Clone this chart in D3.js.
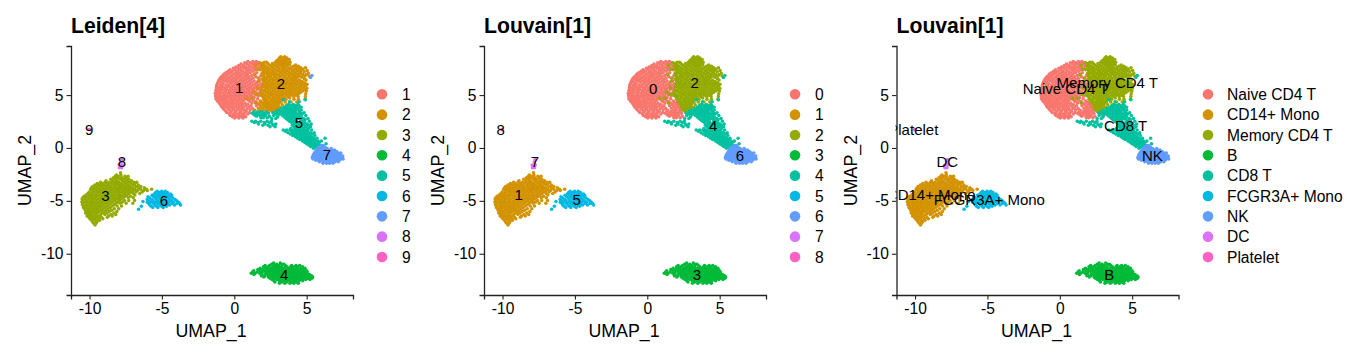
<!DOCTYPE html>
<html>
<head>
<meta charset="utf-8">
<script src="https://cdn.jsdelivr.net/npm/d3@7"></script>
<style>
    html, body { margin: 0; padding: 0; background: #fff; }
    text { font-family: "Liberation Sans", Arial, sans-serif; fill: #000; }
</style>
</head>
<body>
<div id="chart"></div>
<script>
// every row below is [UMAP_2, UMAP_1, UMAP_1, ...]
const cellsNaive = [
    [8.17, .93, 1.28, 1.52],
    [8.06, .72, 1.08, 1.41, 1.69],
    [7.93, .47, .86, 1.23, 1.58, 1.93],
    [7.8, .31, .64, 1.02, 1.37, 1.74],
    [7.66, .12, .49, .81, 1.17, 1.51],
    [7.53, -.06, .28, .67, .97, 1.33, 1.66],
    [7.39, -.29, .07, .44, .83, 1.12, 1.46, 1.78],
    [7.26, -.43, -.12, .23, .59, .94, 1.29],
    [7.12, -.58, -.27, .11, .41, .76, 1.09, 1.55],
    [6.99, -.71, -.39, -.04, .29, .63, .91, 1.38],
    [6.86, -.78, -.52, -.16, .17, .48, .84, 1.21, 1.84],
    [6.73, -.89, -.62, -.28, .06, .36, .71, 1.03, 1.49],
    [6.6, -.97, -.74, -.41, -.09, .24, .57, .93, 1.28, 1.67],
    [6.47, -1.03, -.83, -.53, -.19, .12, .46, .78, 1.14, 1.92],
    [6.34, -1.08, -.68, -.33, .02, .33, .64, 1.02, 1.37, 1.74],
    [6.21, -1.12, -.91, -.49, -.15, .18, .52, .87, 1.21, 1.58],
    [6.08, -1.16, -.77, -.26, .08, .41, .73, 1.09, 1.46, 1.86],
    [5.95, -1.21, -.96, -.58, -.37, -.04, .29, .61, .96, 1.31, 1.68],
    [5.82, -1.19, -.82, -.47, -.13, .19, .54, .82, 1.17, 1.51, 1.89],
    [5.69, -1.24, -1.01, -.66, -.29, .04, .38, .71, 1.04, 1.39, 1.77],
    [5.56, -1.18, -.87, -.53, -.17, .16, .49, .88, 1.22, 1.59],
    [5.43, -1.27, -1.04, -.71, -.36, -.02, .31, .64, .99, 1.33, 1.81],
    [5.3, -1.22, -.93, -.58, -.22, .11, .43, .77, 1.12, 1.48],
    [5.17, -1.31, -1.08, -.76, -.41, -.07, .26, .59, .93, 1.27, 1.68],
    [5.04, -1.26, -.98, -.63, -.27, .07, .38, .72, 1.07, 1.43],
    [4.91, -1.29, -1.11, -.81, -.47, -.13, .21, .52, .86, 1.19, 1.64],
    [4.78, -1.23, -.94, -.66, -.32, .03, .34, .68, 1.01, 1.37],
    [4.65, -1.27, -1.06, -.78, -.51, -.17, .14, .47, .79, 1.13, 1.61],
    [4.52, -1.18, -.89, -.61, -.29, -.02, .31, .62, .97, 1.31],
    [4.39, -1.13, -.97, -.72, -.43, -.11, .21, .53, 1.08, 1.47],
    [4.26, -1.03, -.79, -.54, -.24, .07, .41, .74, 1.22, 1.59],
    [4.13, -.96, -.66, -.37, -.08, .27, .59, .93],
    [4, -.91, -.72, -.49, -.19, .13, .44, .81, 1.16, 1.53],
    [3.87, -.86, -.58, -.31, -.01, .32, .63, 1.03],
    [3.74, -.76, -.44, -.13, .19, .51, .89, 1.27],
    [3.61, -.69, -.36, -.03, .33, .67, 1.09],
    [3.48, -.58, -.21, .12, .46, .82],
    [3.35, -.52, -.28, .06, .39, .71, 1.06],
    [3.22, -.34, -.07, .24, .56, .93],
    [3.08, -.27, .03, .37, .68],
    [2.95, -.12, .18, .51, .79],
    [2.84, .03, .32, .6]
];
const cellsMemory = [
    [8.62, 3.21, 3.48],
    [8.5, 3.12, 3.36, 3.63],
    [8.37, 3.04, 3.29, 3.52, 3.79],
    [8.24, 2.93, 3.17, 3.41, 3.68],
    [8.11, 2.07, 2.23, 2.83, 3.08, 3.33, 3.57, 3.86],
    [7.98, 1.94, 2.31, 2.64, 2.98, 3.24, 3.47, 3.74],
    [7.85, 2.06, 2.42, 2.77, 3.13, 3.39, 3.62, 3.83, 4.24],
    [7.72, 1.88, 2.18, 2.56, 2.91, 3.26, 3.54, 4.08, 4.43],
    [7.59, 2.01, 2.33, 2.69, 3.04, 3.38, 3.71, 3.94, 4.29, 4.58, 4.92],
    [7.46, 1.83, 2.14, 2.48, 2.82, 3.17, 3.51, 3.84, 4.17, 4.46, 4.74],
    [7.33, 1.98, 2.28, 2.63, 2.97, 3.31, 3.64, 4.01, 4.34, 4.62, 5.03],
    [7.2, 2.08, 2.41, 2.76, 3.11, 3.46, 3.78, 4.13, 4.48, 4.83],
    [7.07, 1.92, 2.22, 2.57, 2.89, 3.24, 3.58, 3.92, 4.26, 4.59, 5.11],
    [6.94, 2.03, 2.36, 2.71, 3.04, 3.37, 3.72, 4.06, 4.39, 4.73, 4.97],
    [6.81, 1.96, 2.27, 2.52, 2.86, 3.19, 3.53, 3.87, 4.21, 4.54, 4.88, 5.17],
    [6.68, 2.11, 2.43, 2.74, 3.08, 3.42, 3.76, 4.09, 4.37, 4.68],
    [6.55, 1.99, 2.26, 2.61, 2.94, 3.29, 3.61, 3.96, 4.28, 4.84],
    [6.42, 2.13, 2.46, 2.78, 3.14, 3.47, 3.83, 4.16, 4.51, 4.96],
    [6.29, 2.03, 2.32, 2.66, 2.99, 3.33, 3.68, 4.02, 4.36, 4.69],
    [6.16, 2.19, 2.53, 2.87, 3.22, 3.54, 3.89, 4.22, 4.57, 4.86],
    [6.03, 2.01, 2.36, 2.71, 3.06, 3.41, 3.73, 4.07, 4.41, 4.73, 5.02],
    [5.9, 2.22, 2.56, 2.92, 3.27, 3.59, 3.94, 4.27, 4.61, 4.93],
    [5.77, 1.93, 2.08, 2.42, 2.77, 3.11, 3.46, 3.79, 4.13, 4.48, 4.81],
    [5.64, 2.27, 2.62, 2.96, 3.31, 3.63, 3.98, 4.33, 4.67, 5.01],
    [5.51, 1.91, 2.12, 2.46, 2.81, 3.16, 3.48, 3.83, 4.18, 4.52, 4.86],
    [5.38, 2.03, 2.33, 2.67, 3.02, 3.34, 3.69, 4.03, 4.38, 4.72, 4.98],
    [5.25, 1.84, 2.19, 2.53, 2.87, 3.21, 3.56, 3.88, 4.24, 4.57],
    [5.12, 1.97, 2.37, 2.71, 3.06, 3.39, 3.74, 4.07, 4.43, 4.93],
    [4.99, 1.82, 2.14, 2.52, 2.89, 3.22, 3.58, 3.92, 4.27],
    [4.86, 1.96, 2.31, 2.68, 3.03, 3.37, 3.71, 4.11, 4.41, 4.91],
    [4.73, 2.09, 2.47, 2.83, 3.18, 3.49, 3.83],
    [4.6, 2.02, 2.28, 2.64, 2.98, 3.26, 3.58, 4.12, 4.43, 4.88],
    [4.47, 2.17, 2.51, 2.82, 3.13],
    [4.34, 2.33, 2.67, 2.96, 3.23, 3.52, 3.92, 4.31],
    [4.21, 2.21, 2.49, 2.81, 3.08],
    [4.08, 2.37, 2.64, 2.94, 3.31, 3.66],
    [3.95, 2.46, 2.76, 3.04],
    [3.82, 2.38, 2.61, 2.89, 3.19],
    [3.69, 2.53, 2.77, 3.02],
    [3.56, 2.47, 2.68, 2.93, 3.31],
    [3.43, 2.62, 2.83],
    [3.3, 2.74, 2.91],
    // strays on the red side of the border
    [8.05, 1.78],
    [7.8, 1.47],
    [7.42, 1.61],
    [6.9, 1.42],
    [6.62, 1.72],
    [6.3, 1.66],
    [5.7, 1.6],
    [5.3, 1.33],
    [5.05, 1.56],
    [4.7, .86, 1.22],
    [4.25, 1.46],
    [2.46, 4.31]
];
// orange in Leiden, red in Louvain
const cellsShift = [
    [4.45, 1.79],
    [4.32, 1.86, 2.05],
    [4.12, 1.73, 1.98, 2.18],
    [3.93, 1.83, 2.09, 2.28],
    [3.75, 1.66, 1.94, 2.21],
    [3.57, 1.41, 1.78, 2.03, 2.3]
];
// teal in Leiden, red in Louvain
const cellsStrip = [
    [3.42, 1.33, 1.62, 1.89, 2.21],
    [3.28, 1.24, 1.48, 1.76, 2.03, 2.36],
    [3.14, 1.37, 1.61, 1.92, 2.17],
    [3, 1.52, 1.81, 2.08, 2.42],
    [2.85, 1.84, 2.01, 2.28]
];
const cellsCD8 = [
    [4.55, 3.39, 4.91],
    [4.38, 3.81, 4.48],
    [4.12, 3.77, 4.08, 4.39],
    [3.98, 3.58, 3.93, 4.22, 4.47],
    [3.85, 3.44, 3.72, 4.01, 4.31, 4.61],
    [3.72, 3.27, 3.56, 3.86, 4.14, 4.42],
    [3.59, 3.06, 3.41, 3.69, 3.98, 4.27, 4.63],
    [3.46, 2.92, 3.22, 3.53, 3.83, 4.11, 4.48],
    [3.33, 2.68, 3.08, 3.37, 3.67, 3.96, 4.24, 4.57, 4.82],
    [3.2, 2.84, 3.19, 3.49, 3.78, 4.07, 4.38, 4.69],
    [3.06, 2.72, 3.02, 3.33, 3.62, 3.92, 4.21, 4.52, 4.94],
    [2.92, 2.98, 3.46, 3.77, 4.06, 4.34, 4.63],
    [2.79, 2.58, 2.87, 3.58, 3.89, 4.18, 4.47, 4.79, 5.09],
    [2.66, 3.69, 3.98, 4.28, 4.58, 4.89],
    [2.53, 1.21, 1.46, 1.83, 2.27, 2.56, 3.82, 4.12, 4.74, 5.18],
    [2.4, 1.39, 1.62, 2.07, 2.43, 3.95, 4.27, 4.56, 4.86],
    [2.27, 1.68, 2.13, 2.62, 2.87, 4.08, 4.38, 4.69, 5.02, 5.31],
    [2.14, 1.97, 2.34, 2.71, 4.01, 4.23, 4.53, 4.83, 5.13],
    [2, 2.47, 2.82, 4.12, 4.37, 4.67, 4.97, 5.27],
    [1.85, 3.91, 4.24, 4.52, 4.81, 5.12],
    [1.7, 3.38, 3.62, 3.84, 4.09, 4.38, 4.66, 4.96, 5.34],
    [1.57, 3.53, 3.96, 4.21, 4.51, 4.79, 5.08],
    [1.44, 3.71, 4.07, 4.33, 4.62, 4.92, 5.24, 5.52],
    [1.31, 3.87, 4.19, 4.47, 4.76, 5.06, 5.38],
    [1.18, 4.04, 4.31, 4.61, 4.89, 5.18, 5.56],
    [1.05, 4.23, 4.46, 4.74, 5.02, 5.33],
    [.92, 4.38, 4.61, 4.88, 5.16, 5.47, 5.71, 6.27],
    [.79, 4.52, 4.77, 5.04, 5.31, 5.62],
    [.66, 4.71, 4.93, 5.19, 5.46, 5.78, 6.02],
    [.53, 4.86, 5.08, 5.33, 5.59, 5.89],
    [.4, 4.99, 5.24, 5.48, 5.74, 6.34],
    [.27, 5.14, 5.37, 5.61, 5.86],
    [.14, 5.28, 5.53, 5.77],
    [-.02, 5.47, 5.69]
];
const cellsNK = [
    [.24, 6.02, 6.16],
    [.07, 5.86, 6.09, 6.27],
    [-.06, 5.76, 5.98, 6.18, 6.41, 6.69],
    [-.2, 5.69, 5.88, 6.09, 6.31, 6.52, 6.74, 6.92],
    [-.34, 5.61, 5.79, 6.01, 6.22, 6.43, 6.63, 6.84, 7.06],
    [-.48, 5.54, 5.71, 5.93, 6.14, 6.36, 6.57, 6.78, 6.99, 7.19, 7.36],
    [-.62, 5.47, 5.66, 5.87, 6.08, 6.29, 6.49, 6.71, 6.91, 7.12, 7.31],
    [-.76, 5.44, 5.62, 5.81, 6.02, 6.23, 6.44, 6.64, 6.86, 7.07, 7.27, 7.49],
    [-.9, 5.39, 5.57, 5.77, 5.97, 6.18, 6.38, 6.59, 6.81, 7.01, 7.22, 7.46],
    [-1.04, 5.43, 5.64, 5.86, 6.07, 6.28, 6.48, 6.69, 6.92, 7.13, 7.34, 7.52],
    [-1.17, 5.63, 5.81, 6.03, 6.24, 6.44, 6.66, 6.87, 7.08, 7.27],
    [-1.31, 5.87, 6.09, 6.31, 6.53, 6.74, 6.96, 7.18],
    [-1.44, 6.13, 6.37, 6.58, 6.82]
];
// sits at the tip of the orange cluster: blue in Leiden, teal in Louvain
const cellsTip = [
    [6.86, 5.36],
    [6.66, 5.26]
];
const cellsCD14 = [
    [-2.34, -7.86],
    [-2.55, -8.14, -7.83],
    [-2.68, -8.22, -7.97, -7.56, -7.34],
    [-2.82, -8.34, -8.07, -7.78, -7.47],
    [-2.96, -8.53, -8.21, -7.89, -7.62, -7.29],
    [-3.1, -8.86, -8.41, -8.11, -7.74, -7.43, -7.11],
    [-3.24, -9.24, -8.93, -8.63, -8.27, -7.98, -7.61, -7.29, -6.93, -6.74],
    [-3.37, -9.46, -9.13, -8.78, -8.46, -8.13, -7.83, -7.48, -7.13, -6.86],
    [-3.5, -9.63, -9.31, -8.97, -8.66, -8.31, -7.99, -7.68, -7.34, -7.01, -6.63],
    [-3.64, -9.78, -9.47, -9.14, -8.82, -8.51, -8.18, -7.84, -7.52, -7.22, -6.81, -6.46],
    [-3.77, -9.86, -9.59, -9.28, -8.96, -8.63, -8.32, -7.99, -7.67, -7.36, -7.04, -6.64, -6.22],
    [-3.9, -9.92, -9.71, -9.41, -9.09, -8.77, -8.46, -8.13, -7.82, -7.51, -7.18, -6.87, -6.48, -6.07, -5.71],
    [-4.03, -9.81, -9.53, -9.22, -8.91, -8.58, -8.27, -7.96, -7.63, -7.31, -6.98, -6.69, -6.26, -6.01],
    [-4.17, -10.02, -9.67, -9.37, -9.04, -8.73, -8.41, -8.08, -7.77, -7.44, -7.13, -6.79, -6.37],
    [-4.3, -10.11, -9.83, -9.49, -9.19, -8.87, -8.55, -8.23, -7.91, -7.59, -7.27, -6.98, -6.53],
    [-4.44, -10.23, -9.97, -9.64, -9.32, -8.99, -8.68, -8.37, -8.04, -7.71, -7.41, -6.87],
    [-4.57, -10.37, -10.09, -9.79, -9.47, -9.13, -8.82, -8.51, -8.18, -7.86, -7.53, -7.17],
    [-4.7, -10.46, -10.22, -9.91, -9.61, -9.27, -8.96, -8.64, -8.33, -7.99, -7.67, -7.33, -6.98],
    [-4.83, -10.51, -10.33, -10.03, -9.73, -9.42, -9.09, -8.77, -8.46, -8.14, -7.81],
    [-4.96, -10.47, -10.17, -9.86, -9.54, -9.23, -8.91, -8.59, -8.27, -7.94, -7.58, -7.29, -6.89],
    [-5.1, -10.53, -10.28, -9.99, -9.68, -9.36, -9.04, -8.73, -8.41, -8.06, -7.72],
    [-5.23, -10.44, -10.12, -9.82, -9.51, -9.17, -8.86, -8.52, -8.18, -7.88, -7.47, -7.01],
    [-5.36, -10.49, -10.23, -9.94, -9.63, -9.31, -8.98, -8.66, -8.29],
    [-5.49, -10.38, -10.07, -9.76, -9.44, -9.12, -8.79, -8.43, -8.09, -7.79],
    [-5.62, -10.42, -10.18, -9.88, -9.57, -9.26, -8.92, -8.58],
    [-5.75, -10.34, -10.03, -9.71, -9.39, -9.07, -8.72, -8.29, -7.98],
    [-5.88, -10.29, -10.11, -9.83, -9.51, -9.18, -8.86, -8.47],
    [-6.01, -10.21, -9.96, -9.64, -9.33, -8.97, -8.64, -8.11],
    [-6.14, -10.27, -10.06, -9.77, -9.46, -9.12, -8.78, -8.32],
    [-6.28, -10.13, -9.88, -9.58, -9.23, -8.94, -8.52, -8.19],
    [-6.42, -10.17, -9.97, -9.71, -9.39, -8.69, -8.43],
    [-6.56, -10.04, -9.82, -9.53, -9.18, -8.77],
    [-6.7, -9.97, -9.68, -9.37, -9.08],
    [-6.84, -9.86, -9.58, -9.31],
    [-6.98, -9.79, -9.49],
    [-7.12, -9.71, -9.56],
    [-7.28, -9.62]
];
const cellsFCGR = [
    [-4.08, -5.33, -5.02, -4.77],
    [-4.21, -5.43, -5.17, -4.88, -4.62],
    [-4.34, -5.52, -5.26, -4.99, -4.71, -4.41],
    [-4.47, -5.68, -5.39, -5.11, -4.83, -4.52, -4.33],
    [-4.6, -5.96, -5.57, -5.27, -4.96, -4.66, -4.38],
    [-4.73, -5.84, -5.46, -5.16, -4.87, -4.57, -4.24],
    [-4.86, -6.02, -5.71, -5.38, -5.07, -4.76, -4.47, -4.09],
    [-4.99, -5.92, -5.61, -5.28, -4.97, -4.67, -4.34, -3.98],
    [-5.12, -6.01, -5.77, -5.44, -5.13, -4.82, -4.53, -4.21, -3.87],
    [-5.25, -5.89, -5.58, -5.27, -4.92, -4.61, -4.31, -3.96, -3.78],
    [-5.38, -5.83, -5.49, -5.14, -4.79, -4.47, -4.13, -3.71],
    [-5.51, -5.74, -5.37, -5.03, -4.68],
    [-5.63, -5.63, -5.28, -4.91],
    [-5.05, -6.31],
    [-5.5, -6.42],
    [-5.8, -6.61]
];
const cellsB = [
    [-10.88, 2.72, 3.17],
    [-11, 2.58, 2.93, 3.31, 3.43],
    [-11.12, 2.13, 2.44, 2.81, 3.08, 3.52, 3.96, 4.27, 4.52],
    [-11.24, 2.02, 2.33, 2.67, 2.99, 3.27, 3.63, 3.89, 4.14, 4.41, 4.71],
    [-11.36, 1.78, 2.18, 2.51, 2.84, 3.14, 3.46, 3.77, 4.06, 4.33, 4.63, 4.88],
    [-11.48, 1.63, 1.97, 2.29, 2.64, 2.96, 3.29, 3.59, 3.91, 4.22, 4.54, 4.79],
    [-11.6, 1.34, 1.79, 2.12, 2.46, 2.79, 3.11, 3.43, 3.74, 4.07, 4.38, 4.69, 4.99],
    [-11.72, 1.27, 1.58, 1.94, 2.31, 2.63, 2.94, 3.27, 3.57, 3.89, 4.21, 4.53, 4.86, 5.04],
    [-11.84, 1.17, 1.43, 1.76, 2.17, 2.49, 2.81, 3.12, 3.42, 3.73, 4.04, 4.36, 4.68, 5.01],
    [-11.96, 1.36, 1.92, 2.33, 2.66, 2.97, 3.28, 3.61, 3.92, 4.24, 4.56, 4.87, 5.19],
    [-12.08, 1.87, 2.13, 2.51, 2.83, 3.14, 3.46, 3.78, 4.09, 4.41, 4.73, 5.06, 5.33],
    [-12.2, 2.04, 2.36, 2.68, 3.01, 3.32, 3.64, 3.94, 4.26, 4.58, 4.91, 5.24, 5.41],
    [-12.32, 2.47, 2.82, 3.16, 3.49, 3.81, 4.12, 4.44, 4.77, 5.09, 5.36],
    [-12.44, 2.61, 2.97, 3.31, 3.63, 3.96, 4.29, 4.62, 4.94, 5.22],
    [-12.56, 2.74, 3.13, 3.47, 3.79, 4.13, 4.47, 4.73],
    [-12.68, 2.81, 3.29, 3.62, 3.94, 4.28],
    [-12.8, 3.12, 3.49, 3.84, 4.11, 4.42]
];
const cellsDC = [
    [-1.08, -7.76],
    [-1.33, -7.81],
    [-1.6, -7.96, -7.74],
    [-1.86, -7.94, -7.79]
];
const cellsPlatelet = [
    [1.75, -10.05, -10]
];

// cell groups with their cluster index in the Leiden and the Louvain panels
const cellGroups = [
    [cellsNaive, 0, 0],
    [cellsShift, 1, 0],
    [cellsStrip, 4, 0],
    [cellsMemory, 1, 2],
    [cellsCD8, 4, 4],
    [cellsNK, 6, 6],
    [cellsTip, 6, 4],
    [cellsCD14, 2, 1],
    [cellsFCGR, 5, 5],
    [cellsB, 3, 3],
    [cellsDC, 7, 7],
    [cellsPlatelet, 8, 8]
];

const clusterColors = ['#F8766D', '#D39200', '#93AA00', '#00BA38', '#00C19F', '#00B9E3', '#619CFF', '#DB72FB', '#FF61C3'];
const leidenNames = ['1', '2', '3', '4', '5', '6', '7', '8', '9'];
const louvainNames = ['0', '1', '2', '3', '4', '5', '6', '7', '8'];
const cellTypes = ['Naive CD4 T', 'CD14+ Mono', 'Memory CD4 T', 'B', 'CD8 T', 'FCGR3A+ Mono', 'NK', 'DC', 'Platelet'];

// cluster centres, in the order of the names
const leidenCentres = [[.33, 5.67], [3.22, 6.05], [-8.9, -4.54], [3.44, -12], [4.47, 2.36], [-4.86, -4.95], [6.39, -.66], [-7.76, -1.32], [-10.03, 1.7]];
const louvainCentres = [[.4, 5.58], [-8.88, -4.44], [3.28, 6.17], [3.42, -12], [4.55, 2.11], [-4.87, -4.91], [6.39, -.76], [-7.77, -1.32], [-10.12, 1.7]];

const xTicks = [-10, -5, 0, 5];
const yTicks = [-10, -5, 0, 5];

const panels = [
    {left: 71, title: 'Leiden[4]', names: leidenNames, centres: leidenCentres, colorColumn: 1, legendX: 311, legendText: 331},
    {left: 484, title: 'Louvain[1]', names: louvainNames, centres: louvainCentres, colorColumn: 2, legendX: 311, legendText: 331},
    {left: 896.5, title: 'Louvain[1]', names: cellTypes, centres: louvainCentres, colorColumn: 2, legendX: 311.5, legendText: 330.5}
];

const flatten = rows => rows.flatMap(r => r.slice(1).map(x => [x, r[0]]));

const panelWidth = 282, panelTop = 46, panelBottom = 295;

const xScale = d3.scaleLinear().domain([-11.28, 8.2]).range([0, panelWidth]);
const yScale = d3.scaleLinear().domain([-13.9, 9.64]).range([panelBottom, panelTop]);
const legendScale = d3.scalePoint().domain(d3.range(9)).range([94.3, 257]);

const svg = d3.select('#chart').append('svg')
    .attr('width', 1361)
    .attr('height', 359)
    .style('display', 'block');

panels.forEach((panel, p) => {
    const g = svg.append('g').attr('transform', `translate(${panel.left},0)`);

    svg.append('clipPath').attr('id', `clip-${p}`)
        .append('rect')
        .attr('x', -1).attr('y', panelTop)
        .attr('width', panelWidth + 1).attr('height', panelBottom - panelTop);

    // cells
    const plot = g.append('g').attr('clip-path', `url(#clip-${p})`);
    cellGroups.forEach(group => {
        plot.append('g')
            .attr('fill', clusterColors[group[panel.colorColumn]])
            .selectAll('circle')
            .data(flatten(group[0]))
            .join('circle')
            .attr('cx', d => xScale(d[0]))
            .attr('cy', d => yScale(d[1]))
            .attr('r', 1.75);
    });

    // cluster labels
    plot.append('g')
        .selectAll('text')
        .data(panel.names)
        .join('text')
        .attr('x', (d, i) => xScale(panel.centres[i][0]))
        .attr('y', (d, i) => yScale(panel.centres[i][1]))
        .attr('dy', '0.36em')
        .attr('text-anchor', 'middle')
        .style('font-size', '15px')
        .text(d => d);

    // axes
    const xAxis = g.append('g')
        .attr('transform', `translate(0,${panelBottom})`)
        .call(d3.axisBottom(xScale).tickValues(xTicks).tickSize(4.5).tickPadding(3).tickFormat(d3.format('d')));
    const yAxis = g.append('g')
        .call(d3.axisLeft(yScale).tickValues(yTicks).tickSize(4.5).tickPadding(3).tickFormat(d3.format('d')));
    [xAxis, yAxis].forEach(axis => {
        axis.selectAll('text')
            .style('font-size', '15.6px')
            .style('font-family', '"Liberation Sans", Arial, sans-serif')
            .text(d => d3.format('d')(d).replace('−', '-'));
        axis.selectAll('.tick line').attr('stroke', '#222').attr('stroke-width', 1.1);
        axis.select('.domain').attr('stroke', '#222').attr('stroke-width', 1.3);
    });

    // titles
    g.append('text')
        .attr('x', 0).attr('y', 33)
        .style('font-size', '21.2px')
        .style('font-weight', 'bold')
        .text(panel.title);
    g.append('text')
        .attr('x', panelWidth / 2 - 1).attr('y', 337)
        .attr('text-anchor', 'middle')
        .style('font-size', '17.8px')
        .text('UMAP_1');
    g.append('text')
        .attr('transform', `translate(-40,${(panelTop + panelBottom) / 2}) rotate(-90)`)
        .attr('text-anchor', 'middle')
        .style('font-size', '17.8px')
        .text('UMAP_2');

    // legend
    const legend = g.append('g');
    legend.selectAll('circle')
        .data(panel.names)
        .join('circle')
        .attr('cx', panel.legendX)
        .attr('cy', (d, i) => legendScale(i))
        .attr('r', 5.3)
        .attr('fill', (d, i) => clusterColors[i]);
    legend.selectAll('text')
        .data(panel.names)
        .join('text')
        .attr('x', panel.legendText)
        .attr('y', (d, i) => legendScale(i))
        .attr('dy', '0.36em')
        .style('font-size', '15.6px')
        .text(d => d);
});
</script>
</body>
</html>
